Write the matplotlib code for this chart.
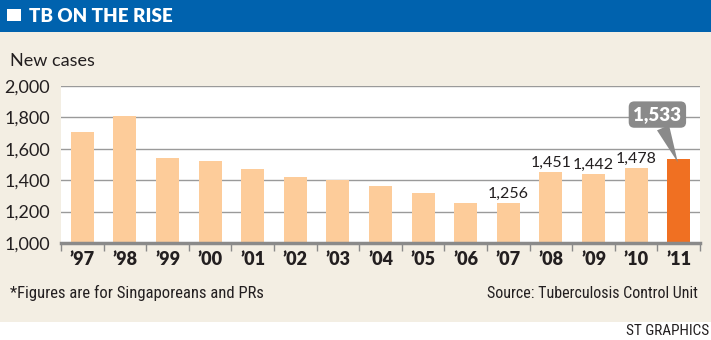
import matplotlib.pyplot as plt
from matplotlib.patches import Rectangle

# new TB cases per year
years = ["\u201997", "\u201998", "\u201999", "\u201900", "\u201901", "\u201902", "\u201903",
         "\u201904", "\u201905", "\u201906", "\u201907", "\u201908", "\u201909", "\u201910", "\u201911"]
cases = [1710, 1812, 1543, 1524, 1473, 1422, 1403, 1364, 1318, 1254, 1256, 1451, 1442, 1478, 1533]
labelled = [10, 11, 12, 13]   # bars that carry a plain value label
highlight = 14                # latest year, shown in a callout

BEIGE = "#f3eee3"
BLUE = "#0062ae"
LIGHT = "#fdcc9a"
ORANGE = "#f07022"
GREY = "#8a8a8a"
NARROW = ["Roboto Condensed", "Liberation Sans Narrow", "Liberation Sans", "DejaVu Sans"]

fig = plt.figure(figsize=(7.11, 3.40), dpi=100)
fig.patch.set_facecolor("white")

# beige panel + blue header band
fig.add_artist(Rectangle((0, 1 - 322 / 340), 1, 322 / 340, transform=fig.transFigure,
                         facecolor=BEIGE, edgecolor="none", zorder=0))
fig.add_artist(Rectangle((0, 1 - 32 / 340), 1, 32 / 340, transform=fig.transFigure,
                         facecolor=BLUE, edgecolor="none", zorder=1))
fig.add_artist(Rectangle((7 / 711, 1 - 21 / 340), 14 / 711, 12 / 340, transform=fig.transFigure,
                         facecolor="white", edgecolor="none", zorder=2))
fig.text(29 / 711, 1 - 16 / 340, "TB ON THE RISE", color="white", fontsize=13.5,
         fontweight="heavy", family="Lato", va="center", ha="left")

fig.text(10 / 711, 1 - 61 / 340, "New cases", fontsize=13, family="Lato",
         color="#231f20", va="center")

ax = fig.add_axes([61 / 711, 1 - 243 / 340, 639 / 711, 157 / 340])
ax.set_facecolor("white")

x = list(range(len(years)))
colors = [ORANGE if i == highlight else LIGHT for i in x]
ax.bar(x, cases, width=0.54, color=colors, zorder=3)

ax.set_xlim(-0.5, len(years) - 0.5)
ax.set_ylim(1000, 2000)
ax.set_yticks([1000, 1200, 1400, 1600, 1800, 2000])
ax.set_yticklabels(["{:,}".format(v) for v in ax.get_yticks().astype(int)],
                   fontsize=13, family="Lato", color="#231f20")
ax.yaxis.grid(True, color="#9a9a9a", linewidth=1.0, zorder=1)
ax.tick_params(axis="y", length=0, pad=8)

# year labels between boundary ticks
ax.set_xticks(x)
ax.set_xticklabels(years, fontsize=13, fontweight="heavy", family="Lato", color="#231f20")
ax.set_xticks([i - 0.5 for i in range(len(years) + 1)], minor=True)
ax.tick_params(axis="x", which="major", length=0, pad=6)
ax.tick_params(axis="x", which="minor", length=6, width=1, color="#8a8a8a")

for side in ["top", "right", "left"]:
    ax.spines[side].set_visible(False)
ax.spines["bottom"].set_color("#8a8a8a")
ax.spines["bottom"].set_linewidth(2.5)
ax.spines["bottom"].set_zorder(4)

for i in labelled:
    ax.text(i, cases[i] + 12, "{:,}".format(cases[i]), ha="center", va="bottom",
            fontsize=11.5, family="Lato", color="#231f20", zorder=5)

ax.annotate("{:,}".format(cases[highlight]), xy=(highlight - 0.02, cases[highlight] - 20),
            xytext=(highlight - 0.5, 1818), ha="center", va="center",
            fontsize=13.5, fontweight="heavy", family="Lato", color="white",
            bbox=dict(boxstyle="round,pad=0.25,rounding_size=0.3", facecolor=GREY, edgecolor="none"),
            arrowprops=dict(arrowstyle="wedge,tail_width=0.7,shrink_factor=0.5",
                            facecolor=GREY, edgecolor="none", shrinkA=0, shrinkB=0),
            zorder=6, annotation_clip=False)

fig.text(10 / 711, 1 - 293 / 340, "*Figures are for Singaporeans and PRs", fontsize=12,
         family=NARROW, color="#231f20", va="center")
fig.text(698 / 711, 1 - 293 / 340, "Source: Tuberculosis Control Unit", fontsize=11.5,
         family=NARROW, color="#231f20", va="center", ha="right")
fig.text(709 / 711, 1 - 331 / 340, "ST GRAPHICS", fontsize=11,
         family=NARROW, color="#231f20", va="center", ha="right")

fig.savefig("out.png", dpi=100, facecolor=fig.get_facecolor())
